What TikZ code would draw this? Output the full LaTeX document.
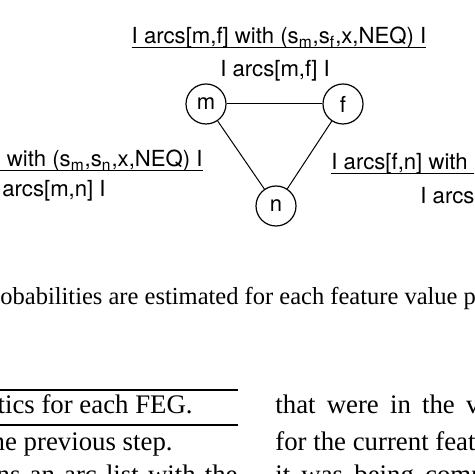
\documentclass[tikz,border=0pt]{standalone}
\usepackage{fontspec}
\setmainfont{Liberation Serif}
\newfontfamily\diagfont{TeX Gyre Heros}
\newcommand{\ulabel}[1]{\setbox0\hbox{#1}\rlap{\rule[-1.9pt]{\wd0}{0.6pt}}\box0}

\begin{document}
\begin{tikzpicture}[x=0.5pt, y=-0.5pt,
    vertex/.style={circle, draw, line width=0.6pt, fill=white, minimum size=20pt, inner sep=0pt, font=\diagfont\fontsize{11}{13}\selectfont},
    lbl/.style={inner sep=0pt, font=\diagfont\fontsize{11.07}{13}\selectfont},
    body/.style={inner sep=0pt, font=\fontsize{13.4}{15}\selectfont}]
    \useasboundingbox (0,0) rectangle (474,474);
    \clip (0,0) rectangle (474,474);
    % The three feature nodes and their arcs.
        \node[vertex] (m) at (206,104) {m};
        \node[vertex] (f) at (343,104) {f};
        \node[vertex] (n) at (276,206) {n};
        \draw[line width=0.5pt] (m) -- (f);
        \draw[line width=0.5pt] (m) -- (n);
        \draw[line width=0.5pt] (f) -- (n);
    % Below nodes are the labels.
        \node[lbl, anchor=base] (mf1) at (279,44) {\ulabel{I arcs[m,f] with (s\textsubscript{m},s\textsubscript{f},x,NEQ) I}};
        \node[lbl, anchor=base] (mf2) at (275,77) {I arcs[m,f] I};
        \node[lbl, anchor=base east] (mn1) at (203,167) {\ulabel{I arcs[m,n] with (s\textsubscript{m},s\textsubscript{n},x,NEQ) I}};
        \node[lbl, anchor=base east] (mn2) at (106,197) {I arcs[m,n] I};
        \node[lbl, anchor=base west] (fn1) at (331,170) {\ulabel{I arcs[f,n] with (s\textsubscript{f},s\textsubscript{n},x,NEQ) I}};
        \node[lbl, anchor=base west] (fn2) at (420,204) {I arcs[f,n] I};
    % Caption and the page text under it.
        \node[body, font=\fontsize{12.25}{15}\selectfont, anchor=base west] (cap) at (0,305) {obabilities are estimated for each feature value pa};
        \draw[line width=1pt] (0,390) -- (238,390);
        \node[body, anchor=base east] (tab) at (193,413) {tics for each FEG.};
        \draw[line width=0.6pt] (0,425) -- (238,425);
        \node[body, anchor=base east] (l2) at (173,450) {ne previous step.};
        \node[body, anchor=base east] (l3) at (238,483) {\spaceskip=4.6pt ns an arc list with the};
        \node[body, anchor=base west] (r1) at (275,413) {\spaceskip=5.6pt that were in the v};
        \node[body, anchor=base west] (r2) at (275,450) {for the current feat};
        \node[body, anchor=base west] (r3) at (275,483) {\spaceskip=5.6pt it was being comp};
\end{tikzpicture}
\end{document}
